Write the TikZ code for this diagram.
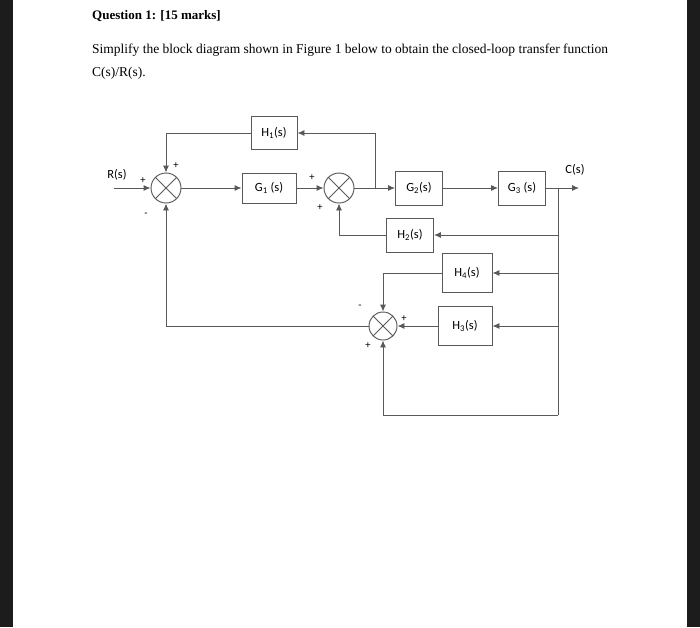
\documentclass[tikz,border=0pt]{standalone}
\usepackage{fontspec}
\setmainfont{Liberation Serif}
\newfontfamily\blockfont{Carlito}
\usetikzlibrary{arrows.meta, positioning}

\begin{document}
\begin{tikzpicture}[x=1pt, y=-1pt, >={Latex[length=7pt,width=6pt]},
  every node/.style={font=\blockfont\fontsize{12.5}{14}\selectfont},
  block/.style={draw=black!65, line width=0.95pt, minimum width=47pt, minimum height=34pt, inner sep=0pt},
  sumjunction/.style={draw=black!65, circle, line width=0.95pt, minimum size=30pt, inner sep=0pt,
    path picture={\draw[black!65, line width=0.95pt] (path picture bounding box.north west) -- (path picture bounding box.south east)
      (path picture bounding box.north east) -- (path picture bounding box.south west);}},
  sign/.style={font=\blockfont\fontsize{10.5}{11}\selectfont, inner sep=0pt},
  conn/.style={draw=black!65, line width=0.95pt},
  question/.style={font=\rmfamily\fontsize{13.5}{16}\selectfont, anchor=base west, inner sep=0pt}]
\useasboundingbox (0,0) rectangle (700,627);
\fill[white] (0,0) rectangle (700,627);
\fill[black!89] (0,0) rectangle (13,627);
\fill[black!89] (687,0) rectangle (700,627);

% question text
\node[question, font=\rmfamily\bfseries\fontsize{13}{15}\selectfont] (title) at (92,19) {Question 1: [15 marks]};
\node[question] (task) at (92,53) {Simplify the block diagram shown in Figure 1 below to obtain the closed-loop transfer function};
\node[question] (ratio) at (92,76) {C(s)/R(s).};

% blocks and summing points
\node[sumjunction] (sum1) at (166,188) {};
\node[block, minimum width=54pt, minimum height=30pt] (g1) at (269,188) {G\textsubscript{1} (s)};
\node[sumjunction] (sum2) at (339,188) {};
\node[block] (g2) at (419,188) {G\textsubscript{2}(s)};
\node[block] (g3) at (522,188) {G\textsubscript{3} (s)};
\node[block, minimum width=46pt, minimum height=33pt] (h1) at (274,133) {H\textsubscript{1}(s)};
\node[block] (h2) at (410,235) {H\textsubscript{2}(s)};
\node[block, minimum width=50pt, minimum height=39pt] (h4) at (467,273) {H\textsubscript{4}(s)};
\node[block, minimum width=54pt, minimum height=39pt] (h3) at (465,326) {H\textsubscript{3}(s)};
\node[sumjunction, minimum size=28pt] (sum3) at (383,326) {};

\coordinate (rin) at (114,188);
\coordinate (b1) at (375,188);
\coordinate (b2) at (558,188);
\coordinate (cout) at (579,188);
\coordinate (b5) at (558,415);

\node (rlabel) at (117,175) {R(s)};
\node (clabel) at (575,170) {C(s)};

% forward path
\draw[conn,->] (rin) -- (sum1.west);
\draw[conn,->] (sum1.east) -- (g1.west);
\draw[conn,->] (g1.east) -- (sum2.west);
\draw[conn,->] (sum2.east) -- (g2.west);
\draw[conn,->] (g2.east) -- (g3.west);
\draw[conn,->] (g3.east) -- (cout);

% feedback paths
\draw[conn,->] (b1) |- (h1.east);
\draw[conn,->] (h1.west) -| (sum1.north);
\draw[conn,->] (b2 |- h2.east) -- (h2.east);
\draw[conn,->] (h2.west) -| (sum2.south);
\draw[conn,->] (b2 |- h4.east) -- (h4.east);
\draw[conn,->] (h4.west) -| (sum3.north);
\draw[conn,->] (b2 |- h3.east) -- (h3.east);
\draw[conn,->] (h3.west) -- (sum3.east);
\draw[conn] (b2) -- (b5);
\draw[conn,->] (b5) -| (sum3.south);
\draw[conn,->] (sum3.west) -| (sum1.south);

% signs
\node[sign] (s1a) at (143,181) {+};
\node[sign] (s1b) at (176,166) {+};
\node[sign] (s1c) at (146,215) {-};
\node[sign] (s2a) at (312,178) {+};
\node[sign] (s2b) at (320,208) {+};
\node[sign] (s3a) at (360,307) {-};
\node[sign] (s3b) at (404,319) {+};
\node[sign] (s3c) at (368,346) {+};
\end{tikzpicture}
\end{document}
